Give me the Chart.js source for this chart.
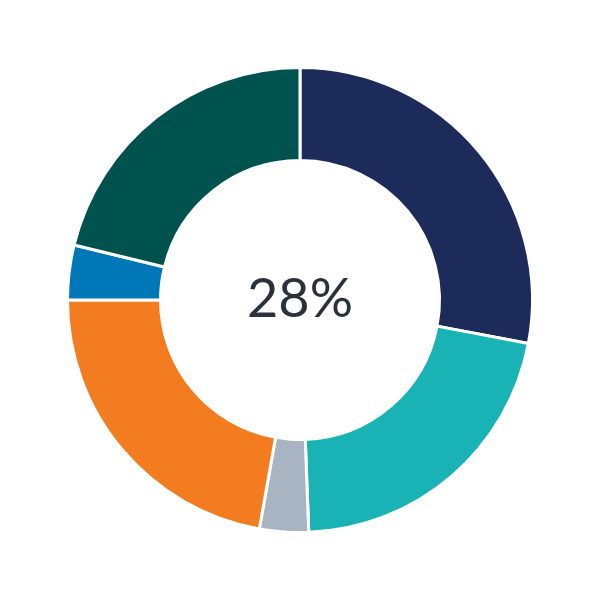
<!DOCTYPE html>
<html>
<head>
<meta charset="utf-8">
<script src="https://cdn.jsdelivr.net/npm/chart.js@4/dist/chart.umd.min.js"></script>
<style>
  html, body { margin: 0; padding: 0; background: #fff; }
  #wrap { width: 600px; height: 600px; position: relative; }
</style>
</head>
<body>
<div id="wrap"><canvas id="donut"></canvas></div>
<script>
const labels = ['Navy', 'Teal', 'Gray', 'Orange', 'Blue', 'Green'];
const values = [28, 21.4, 3.4, 22.2, 3.8, 21.2];
const colors = ['#1c2b5a', '#1ab3b5', '#a9b4c2', '#f47c20', '#0077b6', '#00524f'];
const centerLabel = '28%';

// draws the big number in the hole
const centerText = {
  id: 'centerText',
  afterDraw(chart) {
    const { ctx, chartArea } = chart;
    const x = (chartArea.left + chartArea.right) / 2;
    const y = (chartArea.top + chartArea.bottom) / 2;
    ctx.save();
    ctx.font = '400 54px Lato, "Open Sans", sans-serif';
    ctx.fillStyle = '#28313c';
    ctx.textAlign = 'center';
    ctx.textBaseline = 'middle';
    ctx.fillText(centerLabel, x, y);
    ctx.restore();
  },
};

const ctx = document.getElementById('donut').getContext('2d');
new Chart(ctx, {
  type: 'doughnut',
  data: {
    labels: labels,
    datasets: [
      {
        data: values,
        backgroundColor: colors,
        borderColor: '#ffffff',
        borderWidth: 3,
      },
    ],
  },
  options: {
    responsive: true,
    maintainAspectRatio: false,
    animation: false,
    cutout: '60%',
    layout: { padding: 66 },
    plugins: {
      legend: { display: false },
      tooltip: { enabled: false },
    },
  },
  plugins: [centerText],
});
</script>
</body>
</html>
